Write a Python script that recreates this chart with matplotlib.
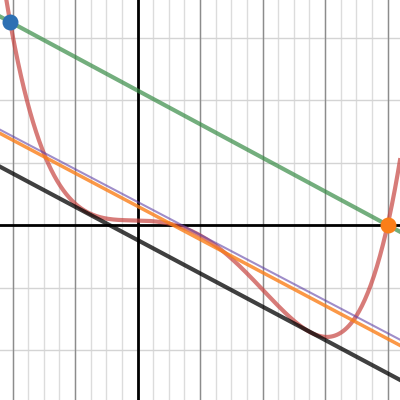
import numpy as np
import matplotlib.pyplot as plt

# points
curve_x = [-2.04, -1.5, -1.0, -0.5, 0.0, 0.5, 1.0, 1.5, 2.0, 2.5, 3.0, 3.5, 4.0, 4.2]
curve_y = [3.25, 1.2, 0.29, 0.1, 0.08, 0.05, -0.13, -0.6, -1.05, -1.5, -1.75, -1.5, 0.0, 1.04]

pt_blue = (-2.04, 3.25)
pt_orange = (4.0, 0.0)

# slope, intercept
line_purple = (-0.525, 0.37)
line_orange = (-0.53, 0.30)
line_black = (-0.533, -0.24)

xmin, xmax, ymin, ymax = -2.2, 4.2, -2.8, 3.6

fig = plt.figure(figsize=(4, 4), dpi=100)
ax = fig.add_axes([0, 0, 1, 1])
ax.set_xlim(xmin, xmax)
ax.set_ylim(ymin, ymax)
ax.axis('off')

for v in np.arange(-2.0, 4.21, 0.25):
    ax.axvline(v, color='#dcdcdc', lw=1, zorder=0)
for v in range(-2, 4):
    ax.axhline(v, color='#d4d4d4', lw=1, zorder=0)
for v in range(-2, 5):
    ax.axvline(v, color='#8c8c8c', lw=1, zorder=0)
ax.axvline(0, color='black', lw=2, zorder=1)
ax.axhline(0, color='black', lw=2, zorder=1)

coef = np.polyfit(curve_x, curve_y, 6)
xs = np.linspace(xmin, xmax, 400)
ax.plot(xs, np.polyval(coef, xs), color='#c74440', alpha=0.7, lw=3, zorder=3)

m = (pt_orange[1] - pt_blue[1]) / (pt_orange[0] - pt_blue[0])
b = pt_blue[1] - m * pt_blue[0]
ax.plot(xs, m * xs + b, color='#388c46', alpha=0.7, lw=3, zorder=3)
ax.plot(xs, line_orange[0] * xs + line_orange[1], color='#fa7e19', alpha=0.8, lw=2.5, zorder=3)
ax.plot(xs, line_purple[0] * xs + line_purple[1], color='#6042a6', alpha=0.6, lw=1.5, zorder=3)
ax.plot(xs, line_black[0] * xs + line_black[1], color='black', alpha=0.75, lw=3, zorder=3)

ax.scatter(*pt_blue, s=110, color='#2d70b3', zorder=5)
ax.scatter(*pt_orange, s=110, color='#fa7e19', zorder=5)

plt.savefig('out.png')
